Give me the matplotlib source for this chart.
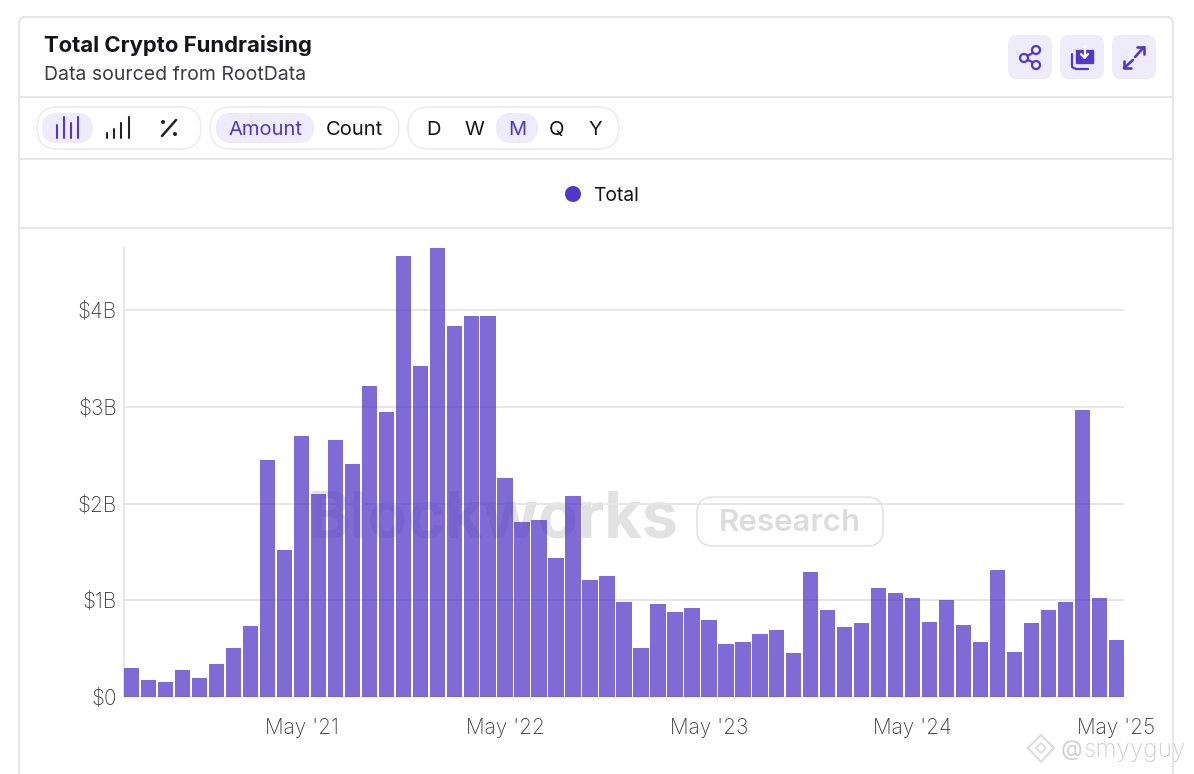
import matplotlib
matplotlib.use("Agg")
import matplotlib.pyplot as plt
from matplotlib.patches import FancyBboxPatch, Circle, Rectangle

plt.rcParams['font.family'] = ['Inter', 'DejaVu Sans']

W, H = 1194, 774

# monthly totals in $B, Jul 2020 to May 2025
months = ['Jul 20', 'Aug 20', 'Sep 20', 'Oct 20', 'Nov 20', 'Dec 20',
          'Jan 21', 'Feb 21', 'Mar 21', 'Apr 21', 'May 21', 'Jun 21',
          'Jul 21', 'Aug 21', 'Sep 21', 'Oct 21', 'Nov 21', 'Dec 21',
          'Jan 22', 'Feb 22', 'Mar 22', 'Apr 22', 'May 22', 'Jun 22',
          'Jul 22', 'Aug 22', 'Sep 22', 'Oct 22', 'Nov 22', 'Dec 22',
          'Jan 23', 'Feb 23', 'Mar 23', 'Apr 23', 'May 23', 'Jun 23',
          'Jul 23', 'Aug 23', 'Sep 23', 'Oct 23', 'Nov 23', 'Dec 23',
          'Jan 24', 'Feb 24', 'Mar 24', 'Apr 24', 'May 24', 'Jun 24',
          'Jul 24', 'Aug 24', 'Sep 24', 'Oct 24', 'Nov 24', 'Dec 24',
          'Jan 25', 'Feb 25', 'Mar 25', 'Apr 25', 'May 25']
totals = [0.30, 0.18, 0.155, 0.28, 0.20, 0.34, 0.51, 0.735, 2.45, 1.52,
          2.70, 2.10, 2.66, 2.41, 3.21, 2.95, 4.56, 3.42, 4.64, 3.83,
          3.94, 3.94, 2.26, 1.81, 1.83, 1.44, 2.08, 1.21, 1.25, 0.98,
          0.51, 0.96, 0.88, 0.92, 0.80, 0.55, 0.57, 0.65, 0.69, 0.45,
          1.29, 0.90, 0.72, 0.76, 1.13, 1.08, 1.02, 0.78, 1.00, 0.74,
          0.57, 1.31, 0.47, 0.76, 0.90, 0.98, 2.97, 1.02, 0.59]
y_ticks = [0, 1, 2, 3, 4]
y_labels = ['$0', '$1B', '$2B', '$3B', '$4B']
x_ticks = ['May 21', 'May 22', 'May 23', 'May 24', 'May 25']
x_labels = ["May '21", "May '22", "May '23", "May '24", "May '25"]

PURPLE = '#5237c8'
LINE = '#e7e7ea'
PILL_LINE = '#eeeef2'
TINT = '#eeecfa'
DARK = '#14141c'
GREY = '#404047'

fig = plt.figure(figsize=(W / 100, H / 100), dpi=100, facecolor='white')

# page furniture, in pixel coordinates
bg = fig.add_axes([0, 0, 1, 1], zorder=0)
bg.set_xlim(0, W)
bg.set_ylim(H, 0)
bg.axis('off')


def pill(x0, y0, x1, y1, r, fc='none', ec='none', lw=1.2):
    bg.add_patch(FancyBboxPatch((x0 + r, y0 + r), x1 - x0 - 2 * r, y1 - y0 - 2 * r,
                                boxstyle='round,pad=%f,rounding_size=%f' % (r, r),
                                fc=fc, ec=ec, lw=lw))


def seg(xs, ys, color=PURPLE, lw=1.6):
    bg.plot(xs, ys, color=color, lw=lw, solid_capstyle='round', solid_joinstyle='round')


# card
pill(19, 17, 1173, 800, 6, fc='white', ec=LINE, lw=1.5)
for yy in [97, 159, 228]:
    bg.plot([19, 1173], [yy, yy], color=LINE, lw=1.4)

bg.text(44, 46, 'Total Crypto Fundraising', fontsize=15.9, fontweight='bold', color=DARK, va='center')
bg.text(44, 75, 'Data sourced from RootData', fontsize=14, color='#3c3c44', va='center')

# action buttons
for x0 in [1008, 1060, 1112]:
    pill(x0, 35, x0 + 44, 79, 9, fc=TINT)
# share
seg([1024, 1036], [58, 51])
seg([1024, 1036], [58, 64])
for cx, cy in [(1024, 58), (1036, 50), (1036, 65)]:
    bg.add_patch(Circle((cx, cy), 4, fc=TINT, ec=PURPLE, lw=1.6, zorder=3))
# save
bg.add_patch(Rectangle((1076, 50), 17, 13, fc=PURPLE, ec=PURPLE, lw=1))
seg([1072, 1072, 1076, 1088], [54, 67, 69, 69])
seg([1084.5, 1084.5], [46, 57], color='white', lw=1.6)
seg([1081, 1084.5, 1088], [54, 58, 54], color='white', lw=1.6)
# expand
seg([1135, 1144], [57, 47], lw=1.9)
seg([1137, 1144, 1144], [47, 47, 54], lw=1.9)
seg([1124, 1133], [68, 60], lw=1.9)
seg([1124, 1124, 1131], [61, 68, 68], lw=1.9)

# toggle groups
pill(37, 107, 201, 149, 21, fc='white', ec=PILL_LINE)
pill(210, 107, 399, 149, 21, fc='white', ec=PILL_LINE)
pill(408, 107, 619, 149, 21, fc='white', ec=PILL_LINE)
pill(42, 113, 93, 143, 15, fc=TINT)
pill(216, 113, 314, 143, 15, fc=TINT)
pill(496, 113, 538, 143, 15, fc=TINT)

for xx, top in zip([57, 64, 71, 78], [125, 117, 123, 117]):
    seg([xx, xx], [top, 138], color=PURPLE, lw=1.5)
for xx, top in zip([107, 114, 121, 129], [133, 129, 123, 117]):
    seg([xx, xx], [top, 138], color='#222228', lw=1.5)
seg([162, 176], [136, 120], color='#222228', lw=1.8)
bg.add_patch(Circle((163, 122), 2, fc='#222228', ec='none'))
bg.add_patch(Circle((175, 134), 2, fc='#222228', ec='none'))

bg.text(265, 130, 'Amount', fontsize=14.5, color=PURPLE, ha='center', va='center')
bg.text(354, 130, 'Count', fontsize=14.5, color=DARK, ha='center', va='center')
for xx, lab in zip([433, 474, 517, 557, 595], ['D', 'W', 'M', 'Q', 'Y']):
    bg.text(xx, 130, lab, fontsize=14.5, color=PURPLE if lab == 'M' else DARK, ha='center', va='center')

# legend
bg.add_patch(Circle((573, 194), 8, fc=PURPLE, ec='none'))
bg.text(593, 196, 'Total', fontsize=13.9, color=DARK, va='center')

# watermarks
bg.text(493, 521, 'Blockworks', fontsize=46.7, fontweight='bold', color='#e2e2e2', ha='center', va='center')
pill(697, 497, 883, 546, 16, fc='white', ec='#dedede', lw=1)
bg.text(790, 523, 'Research', fontsize=22.5, fontweight='semibold', color='#dcdcdc', ha='center', va='center')

# chart
ax = fig.add_axes([124 / W, 1 - 697 / H, 1000 / W, 449 / H], zorder=1)
ax.patch.set_alpha(0)
xpos = list(range(len(months)))
ax.bar(xpos, totals, width=0.91, color=PURPLE, alpha=0.74, zorder=3)
ax.set_xlim(-0.455, len(months) - 1 + 0.455)
ax.set_ylim(0, 449 / 96.75)
ax.set_yticks(y_ticks)
ax.set_yticklabels(y_labels)
ax.set_xticks([months.index(m) for m in x_ticks])
ax.set_xticklabels(x_labels)
ax.tick_params(axis='both', length=0, labelsize=15, labelcolor=GREY)
for lab in ax.get_xticklabels() + ax.get_yticklabels():
    lab.set_fontweight('light')
ax.tick_params(axis='y', pad=5)
ax.tick_params(axis='x', pad=15)
ax.grid(axis='y', color=LINE, lw=1.4, zorder=1)
ax.set_axisbelow(True)
for s in ['top', 'right', 'bottom']:
    ax.spines[s].set_visible(False)
ax.spines['left'].set_color(LINE)
ax.spines['left'].set_linewidth(1.4)

# repost mark, bottom right
fg = fig.add_axes([0, 0, 1, 1], zorder=2)
fg.set_xlim(0, W)
fg.set_ylim(H, 0)
fg.axis('off')
fg.plot([1028, 1041, 1054, 1041, 1028], [748, 735, 748, 762, 748], color='#dcdcdc', lw=1.5)
fg.plot([1036, 1041, 1046, 1041, 1036], [748, 743, 748, 753, 748], color='#dcdcdc', lw=1.2)
fg.text(1061, 750, '@', fontsize=16, color='#cfcfcf', va='center')
fg.text(1083, 751, 'smyyguy', fontsize=17.5, fontweight='light', color='#cfcfcf', va='center')

fig.savefig('out.png', dpi=100)
